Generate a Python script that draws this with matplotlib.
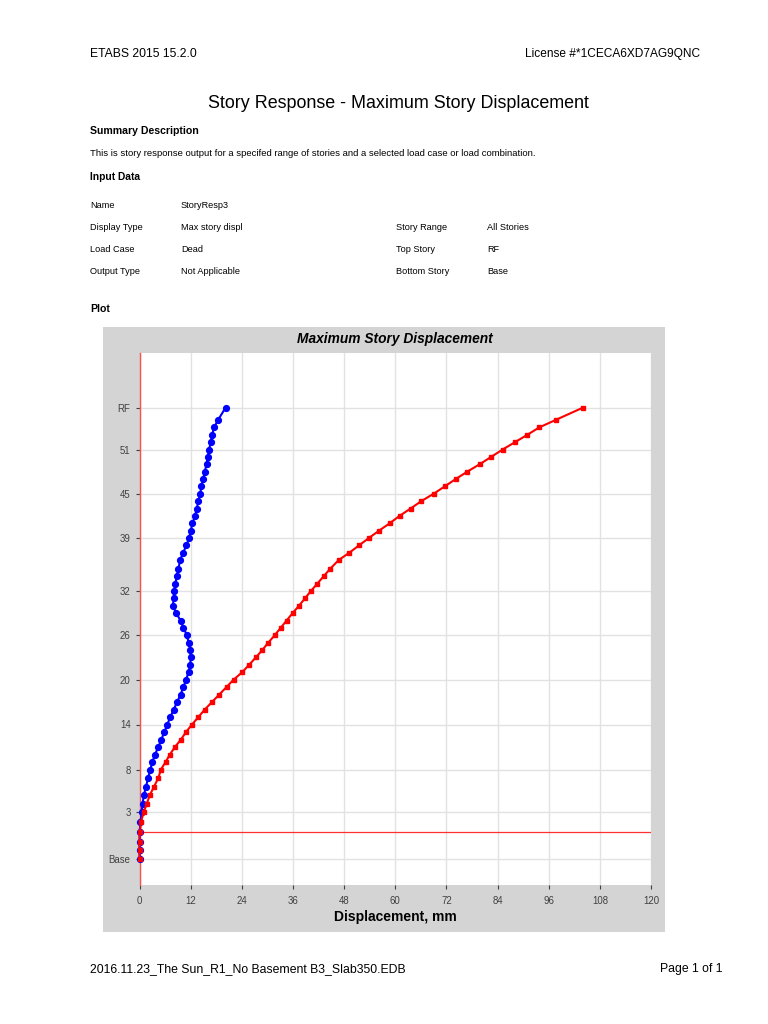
import numpy as np
import matplotlib
matplotlib.use("Agg")
import matplotlib.pyplot as plt
from matplotlib.patches import Rectangle

# Story names from the bottom (Base) to the roof (RF)
stories = ["Base", "B2", "B1"] + [str(i) for i in range(1, 56)] + ["RF"]

# Story heights in m (height of each story above the one below it)
story_heights = ([0.0, 3.6, 3.2, 4.0, 4.0, 4.0]      # Base, B2, B1, 1, 2, 3
                 + [3.4] * 5                         # 4 - 8
                 + [3.0] * 12                        # 9 - 20
                 + [2.95] * 15                       # 21 - 35
                 + [3.5]                             # 36
                 + [2.95] * 19                       # 37 - 55
                 + [5.0])                            # RF

# Maximum story displacement, mm
disp_blue = [0.0, 0.0, 0.0, 0.0, 0.2, 0.5, 0.7, 1.0, 1.5, 2.0,
             2.5, 3.0, 3.6, 4.4, 5.1, 5.8, 6.5, 7.2, 8.0, 8.8,
             9.6, 10.3, 10.9, 11.5, 11.9, 12.0, 11.9, 11.5, 11.1, 10.3,
             9.6, 8.6, 7.8, 8.0, 8.1, 8.4, 8.7, 9.1, 9.5, 10.2,
             11.0, 11.6, 12.0, 12.4, 13.0, 13.4, 13.8, 14.2, 14.5, 14.9,
             15.3, 15.7, 16.0, 16.3, 16.7, 17.0, 17.5, 18.4, 20.2]
disp_red = [0.0, 0.0, 0.0, 0.1, 0.3, 1.0, 1.7, 2.4, 3.4, 4.4,
            5.0, 6.1, 7.1, 8.3, 9.7, 10.9, 12.3, 13.8, 15.3, 17.0,
            18.7, 20.4, 22.1, 24.1, 25.7, 27.3, 28.8, 30.2, 31.7, 33.1,
            34.5, 35.9, 37.4, 38.8, 40.2, 41.7, 43.2, 44.7, 46.7, 49.2,
            51.5, 53.8, 56.2, 58.7, 61.0, 63.6, 66.1, 69.0, 71.6, 74.2,
            76.9, 79.8, 82.5, 85.2, 88.1, 91.0, 93.8, 97.6, 104.1]

# Stories shown on the vertical axis
tick_stories = ["Base", "3", "8", "14", "20", "26", "32", "39", "45", "51", "RF"]
x_ticks = [0, 12, 24, 36, 48, 60, 72, 84, 96, 108, 120]

elev = np.cumsum(story_heights)
tick_elev = [elev[stories.index(s)] for s in tick_stories]
ground = elev[stories.index("1")]

plt.rcParams["font.family"] = ["Liberation Sans", "DejaVu Sans"]
fig = plt.figure(figsize=(7.68, 10.24), dpi=100)

# page text
fig.text(90 / 768, 1 - 54 / 1024, "ETABS 2015 15.2.0", fontsize=8.7, va="center")
fig.text(700 / 768, 1 - 54 / 1024, "License #*1CECA6XD7AG9QNC", fontsize=8.6,
         va="center", ha="right")
fig.text(398 / 768, 1 - 103 / 1024, "Story Response - Maximum Story Displacement",
         fontsize=12.9, va="center", ha="center")
fig.text(90 / 768, 1 - 131 / 1024, "Summary Description", fontsize=7.6,
         fontweight="bold", va="center")
fig.text(90 / 768, 1 - 154 / 1024,
         "This is story response output for a specifed range of stories and a "
         "selected load case or load combination.", fontsize=6.8, va="center")
fig.text(90 / 768, 1 - 177 / 1024, "Input Data", fontsize=7.4,
         fontweight="bold", va="center")

rows = [("Name", "StoryResp3", "", ""),
        ("Display Type", "Max story displ", "Story Range", "All Stories"),
        ("Load Case", "Dead", "Top Story", "RF"),
        ("Output Type", "Not Applicable", "Bottom Story", "Base")]
row_y = [205, 228, 250, 272]
col_x = [90, 181, 396, 487]
for r, yy in zip(rows, row_y):
    for txt, xx in zip(r, col_x):
        fig.text(xx / 768, 1 - yy / 1024, txt, fontsize=6.6, va="center")

fig.text(90 / 768, 1 - 309 / 1024, "Plot", fontsize=7.6, fontweight="bold",
         va="center")

fig.text(90 / 768, 1 - 969 / 1024,
         "2016.11.23_The Sun_R1_No Basement B3_Slab350.EDB", fontsize=8.8,
         va="center")
fig.text(722 / 768, 1 - 969 / 1024, "Page 1 of 1", fontsize=8.8, va="center",
         ha="right")

# gray frame behind the chart
fig.patches.append(Rectangle((103 / 768, 1 - 932 / 1024), 562 / 768, 605 / 1024,
                             transform=fig.transFigure, facecolor="#d4d4d4",
                             edgecolor="none", zorder=0))

ax = fig.add_axes([139.6 / 768, 1 - 885 / 1024, 511.4 / 768, 532 / 1024])
ax.set_facecolor("white")
ax.set_zorder(1)

ax.plot(disp_blue, elev, color="#0000ff", lw=1.5, marker="o", ms=4.2,
        zorder=3, clip_on=False)
ax.plot(disp_red, elev, color="#ff0000", lw=1.5, marker="s", ms=3.4,
        zorder=4, clip_on=False)
ax.axhline(ground, color="#ff3030", lw=0.9, zorder=2)

ax.set_xlim(0, 120)
ax.set_ylim(-10.4, 202.4)
ax.set_xticks(x_ticks)
ax.set_yticks(tick_elev)
ax.set_yticklabels(tick_stories)
ax.grid(True, color="#e2e2e2", lw=1.0, zorder=0)
ax.set_axisbelow(True)

for s in ["top", "right", "bottom"]:
    ax.spines[s].set_visible(False)
ax.spines["left"].set_color("#ff5050")
ax.spines["left"].set_linewidth(1.0)

ax.tick_params(axis="both", labelsize=6.9, labelcolor="#404040",
               color="#404040", direction="out", length=3, width=0.8)
ax.tick_params(axis="x", pad=5)

ax.set_xlabel("Displacement, mm", fontsize=10, fontweight="bold", labelpad=3)
fig.text(395 / 768, 1 - 339 / 1024, "Maximum Story Displacement", fontsize=9.9,
         fontweight="bold", fontstyle="italic", ha="center", va="center")

fig.savefig("out.png", dpi=100)
